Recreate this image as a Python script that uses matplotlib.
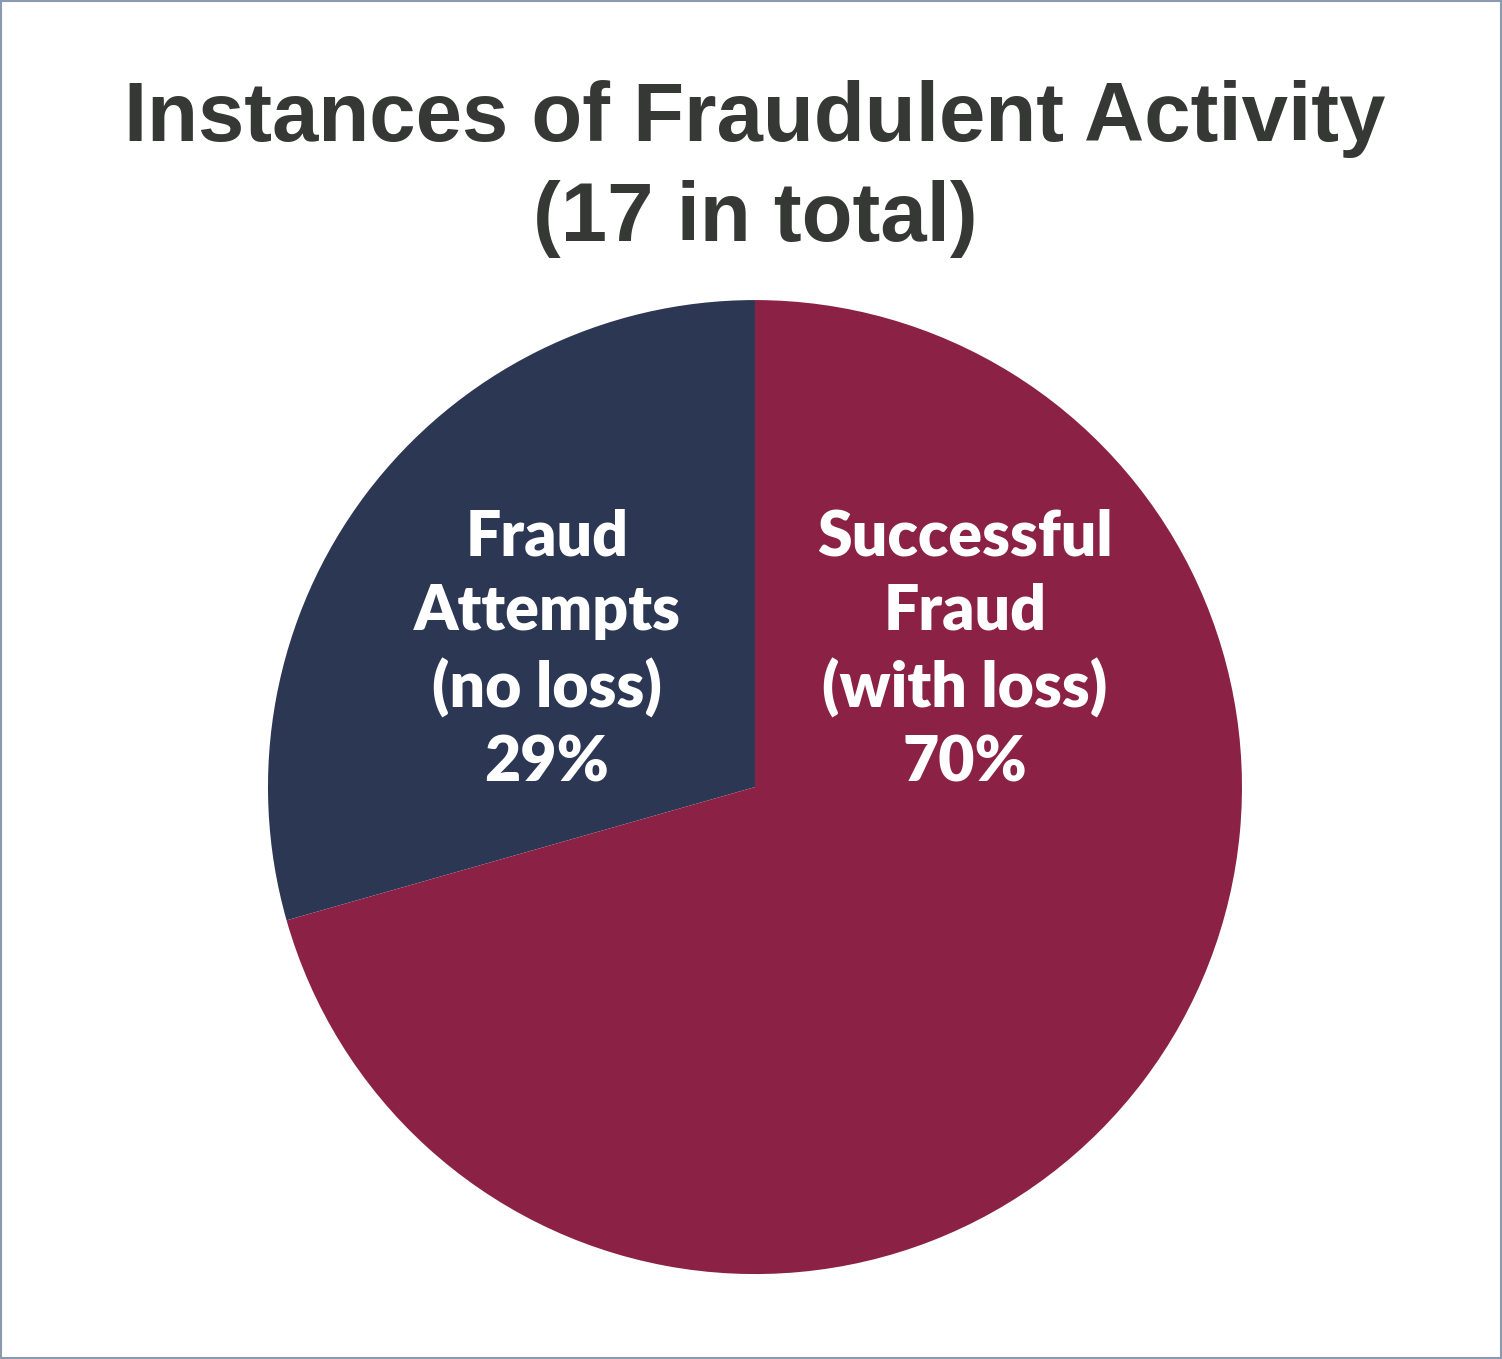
import matplotlib.pyplot as plt
from matplotlib.patches import Rectangle

# data
categories = ['Fraud\nAttempts\n(no loss)', 'Successful\nFraud\n(with loss)']
counts = [5, 12]
shown_pct = [29, 70]
colors = ['#2B3753', '#8B2246']
title = 'Instances of Fraudulent Activity\n(17 in total)'

fig = plt.figure(figsize=(15.02, 13.59), dpi=100)
ax = fig.add_axes([0.1784, 0.0625, 0.6485, 0.7167])

ax.pie(counts, colors=colors, startangle=90, counterclock=True,
       radius=1.0, wedgeprops={'linewidth': 0})
ax.set_xlim(-1, 1)
ax.set_ylim(-1, 1)
ax.set_aspect('equal')
ax.axis('off')

# label positions inside each slice (data coords)
label_pos = [(-0.427, 0.281), (0.431, 0.281)]
for (x, y), name, p in zip(label_pos, categories, shown_pct):
    ax.text(x, y, f'{name}\n{p}%', ha='center', va='center', color='white',
            fontsize=45, fontweight='heavy', family='Lato', linespacing=1.36)

fig.text(0.5027, 0.8756, title, ha='center', va='center', color='#363836',
         fontsize=60, fontweight='bold', family='Liberation Sans',
         linespacing=1.37)

# thin frame round the whole picture
fig.patches.append(Rectangle((0.0007, 0.0007), 0.9986, 0.9986,
                             transform=fig.transFigure, fill=False,
                             edgecolor='#8C9AB0', linewidth=1.5))

fig.savefig('out.png', dpi=100, facecolor='white')
